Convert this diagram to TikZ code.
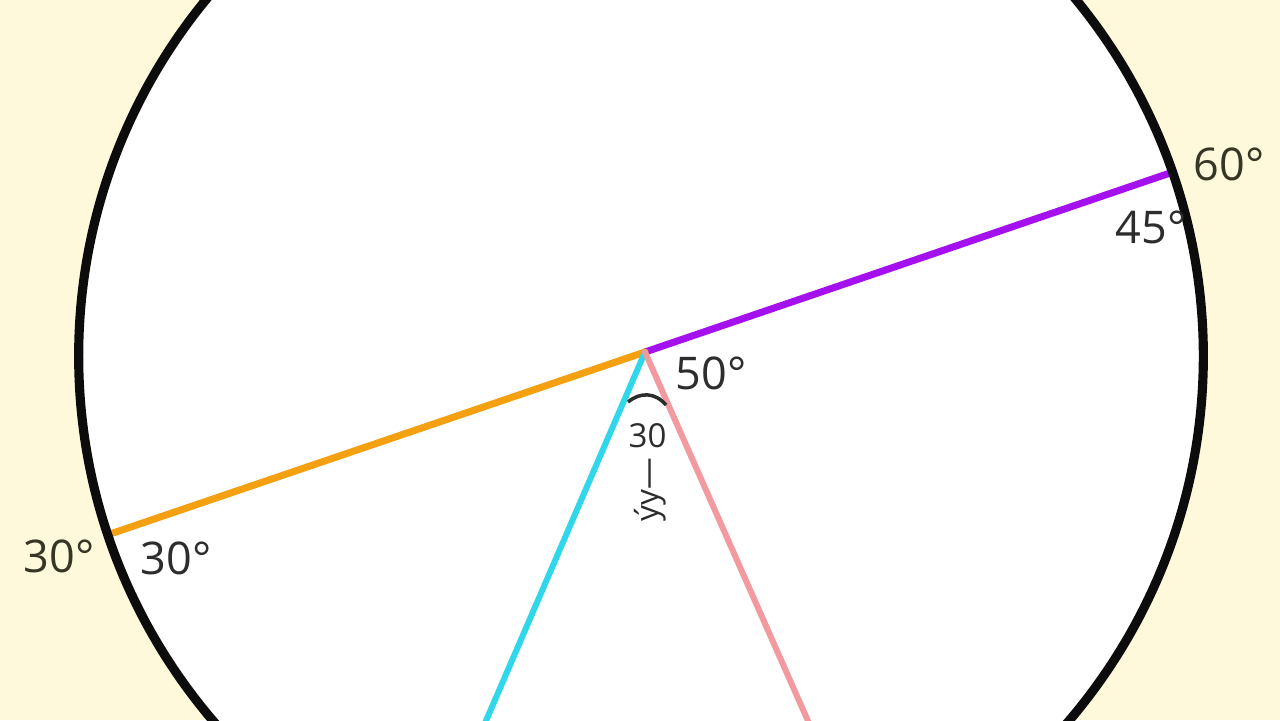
\documentclass[tikz,border=0pt]{standalone}
\usepackage{fontspec}
\setmainfont{Open Sans}
\definecolor{bgcream}{RGB}{254,249,219}
\definecolor{rimblack}{RGB}{12,12,12}
\definecolor{spokepurple}{RGB}{164,16,238}
\definecolor{spokeorange}{RGB}{245,160,16}
\definecolor{spokecyan}{RGB}{48,214,234}
\definecolor{spokepink}{RGB}{242,154,160}
\definecolor{labelgray}{RGB}{45,45,45}
\definecolor{labelolive}{RGB}{55,53,36}
\begin{document}
\begin{tikzpicture}[x=0.01cm,y=-0.01cm,
	deg/.style={font=\fontsize{12.8}{14}\selectfont, text=labelgray, inner sep=0pt, anchor=base west},
	degout/.style={deg, text=labelolive},
	spoke/.style={line width=2pt, line cap=round}]
	\useasboundingbox (0,0) rectangle (1280,720);
	\fill[bgcream] (0,0) rectangle (1280,720);
	\clip (0,0) rectangle (1280,720);
	
	\coordinate (M) at (641,356);%Kreismitte
	\coordinate (O) at (645,352);%Treffpunkt
	\coordinate (P) at (1170,173);
	\coordinate (Q) at (113,533);
	\coordinate (C) at (482,730);
	\coordinate (K) at (812,730);
	
	\fill[white] (M) circle (5.62cm);
	
	\draw[spoke, spokepurple] (O) -- (P);
	\draw[spoke, spokeorange] (O) -- (Q);
	\draw[spoke, spokecyan, line width=1.7pt] (O) -- (C);
	\draw[spoke, spokepink, line width=1.7pt] (O) -- (K);
	
	\draw[line width=2.6pt, rimblack] (M) circle (5.62cm);
	
	\coordinate (a) at (628,402);
	\coordinate (b) at (666,405);
	\draw[line width=1pt, labelgray] (a) .. controls (640,392) and (655,392) .. (b);%Bogen
	
	\node[degout] (l60) at (1193,180) {60°};
	\node[deg] (l45) at (1115,243) {45°};
	\node[deg] (l50) at (675,389) {50°};
	\node[degout] (l30o) at (23,572) {30°};
	\node[deg] (l30i) at (140,574) {30°};
	\node[deg, font=\fontsize{9.4}{10}\selectfont] (l30s) at (628,447) {30};
	\node[rotate=90, anchor=base, inner sep=0pt, text=labelgray, font=\fontsize{9}{10}\selectfont] (lyy) at (658,490) {ýy—};
\end{tikzpicture}
\end{document}
